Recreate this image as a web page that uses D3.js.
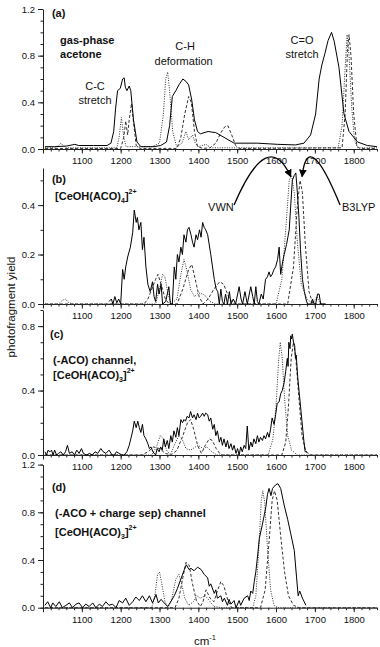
<!DOCTYPE html>
<html>
<head>
<meta charset="utf-8">
<script src="https://cdn.jsdelivr.net/npm/d3@7/dist/d3.min.js"></script>
<style>
  body { margin: 0; background: #fff; }
  svg { display: block; font-family: "Liberation Sans", Arial, sans-serif; }
  .tick text { font-size: 9.5px; fill: #111; }
  .tick line, .domain { stroke: #222; }
  .exp { fill: none; stroke: #000; stroke-width: 1; }
  .vwn { fill: none; stroke: #333; stroke-width: 1; stroke-dasharray: 1,1.4; }
  .b3 { fill: none; stroke: #333; stroke-width: 1; stroke-dasharray: 3,2; }
  .lbl { font-size: 11px; fill: #111; }
  .bold { font-weight: bold; }
</style>
</head>
<body>
<svg width="380" height="647"></svg>
<script>
// ---- data (wavenumber cm-1, photofragment yield) ----
// solid = experiment, dotted = VWN, dashed = B3LYP

var xTicks = [1100, 1200, 1300, 1400, 1500, 1600, 1700, 1800];
var aTicks = [0, 0.4, 0.8, 1.2];
var bTicks = [0, 0.2, 0.4];
var cTicks = [0, 0.4, 0.8];
var dTicks = [0, 0.4, 0.8, 1.2];

// (a) gas-phase acetone
var aExp = [[1005,0.02],[1030,0.02],[1060,0.025],[1075,0.035],[1082,0.04],[1092,0.03],[1130,0.03],[1165,0.03],
  [1175,0.05],[1182,0.15],[1187,0.35],[1192,0.5],[1199,0.52],[1205,0.6],[1209,0.61],[1212,0.53],[1216,0.5],
  [1222,0.54],[1226,0.5],[1233,0.25],[1242,0.06],[1252,0.02],[1286,0.02],[1303,0.03],[1318,0.06],[1326,0.2],
  [1333,0.45],[1342,0.5],[1350,0.55],[1360,0.6],[1368,0.58],[1375,0.55],[1383,0.42],[1390,0.25],[1398,0.15],
  [1405,0.13],[1425,0.15],[1445,0.14],[1466,0.1],[1492,0.05],[1552,0.05],[1604,0.04],[1650,0.035],[1672,0.05],
  [1689,0.12],[1702,0.3],[1711,0.6],[1718,0.72],[1726,0.82],[1734,0.93],[1743,1.0],[1750,0.92],[1762,0.7],
  [1775,0.3],[1788,0.15],[1810,0.06],[1835,0.03],[1860,0.02]];
var aVwn = [[1005,0.01],[1030,0.01],[1040,0.03],[1046,0.05],[1052,0.03],[1060,0.01],[1190,0.01],[1196,0.1],
  [1202,0.27],[1208,0.1],[1214,0.02],[1280,0.02],[1300,0.05],[1310,0.3],[1316,0.6],[1321,0.66],[1326,0.5],
  [1334,0.15],[1344,0.02],[1358,0.05],[1368,0.15],[1375,0.08],[1385,0.12],[1392,0.05],[1400,0.02],[1420,0.04],
  [1432,0.01],[1500,0.01],[1760,0.01],[1770,0.2],[1778,0.7],[1783,0.98],[1788,0.8],[1795,0.35],[1802,0.08],
  [1810,0.01],[1860,0.01]];
var aB3 = [[1005,0.005],[1200,0.005],[1208,0.1],[1213,0.24],[1218,0.12],[1222,0.25],[1228,0.39],[1234,0.2],
  [1240,0.03],[1250,0.005],[1345,0.005],[1355,0.1],[1365,0.3],[1375,0.45],[1382,0.4],[1390,0.15],[1398,0.02],
  [1412,0.005],[1430,0.01],[1445,0.05],[1458,0.14],[1468,0.19],[1476,0.2],[1486,0.12],[1496,0.03],[1505,0.005],
  [1770,0.01],[1778,0.3],[1784,0.85],[1788,0.98],[1793,0.8],[1800,0.3],[1808,0.03],[1815,0.005],[1860,0.005]];

// (b) [CeOH(ACO)4]2+
var bExp = [[1170,0.01],[1176,0.02],[1180,0.0],[1185,0.03],[1190,0.005],[1195,0.02],[1200,0.0],[1205,0.14],
  [1209,0.1],[1213,0.15],[1218,0.19],[1225,0.23],[1231,0.29],[1235,0.38],[1240,0.33],[1243,0.35],[1247,0.3],
  [1252,0.33],[1256,0.22],[1260,0.27],[1265,0.15],[1270,0.08],[1276,0.05],[1282,0.09],[1286,0.03],[1290,0.01],
  [1295,0.08],[1299,0.04],[1304,0.08],[1308,0.0],[1316,0.01],[1324,0.07],[1328,0.0],[1333,0.0],[1338,0.15],
  [1342,0.1],[1346,0.2],[1350,0.17],[1355,0.23],[1359,0.2],[1363,0.28],[1368,0.25],[1372,0.3],[1376,0.31],
  [1381,0.28],[1385,0.25],[1389,0.23],[1394,0.28],[1398,0.26],[1403,0.3],[1407,0.27],[1411,0.33],[1415,0.31],
  [1419,0.3],[1424,0.28],[1432,0.2],[1441,0.1],[1446,0.06],[1450,0.05],[1454,0.0],[1458,0.06],[1462,0.01],
  [1466,0.0],[1470,0.04],[1475,0.0],[1480,0.05],[1484,0.0],[1490,0.02],[1496,0.0],[1505,0.07],[1510,0.02],
  [1514,0.0],[1520,0.05],[1526,0.0],[1535,0.07],[1540,0.03],[1544,0.0],[1548,0.07],[1552,0.01],[1556,0.0],
  [1562,0.04],[1567,0.02],[1573,0.1],[1578,0.11],[1582,0.13],[1586,0.11],[1590,0.12],[1595,0.14],[1599,0.15],
  [1604,0.18],[1608,0.23],[1612,0.12],[1617,0.17],[1621,0.2],[1627,0.24],[1634,0.3],[1638,0.4],[1642,0.5],
  [1647,0.52],[1651,0.53],[1655,0.45],[1659,0.35],[1663,0.22],[1668,0.1],[1673,0.05],[1677,0.02],[1681,0.0],
  [1690,0.0],[1694,0.02],[1698,0.0],[1702,0.0],[1707,0.04],[1711,0.04],[1715,0.0],[1719,0.0],[1728,0.0]];
var bVwn = [[1005,0.0],[1040,0.0],[1050,0.015],[1058,0.02],[1066,0.005],[1080,0.0],[1290,0.0],[1300,0.06],
  [1308,0.12],[1314,0.11],[1322,0.04],[1330,0.0],[1345,0.02],[1355,0.12],[1363,0.18],[1370,0.14],[1380,0.06],
  [1390,0.03],[1400,0.045],[1412,0.04],[1420,0.03],[1430,0.01],[1445,0.0],[1600,0.0],[1615,0.1],[1625,0.3],
  [1634,0.5],[1640,0.52],[1647,0.45],[1655,0.25],[1665,0.08],[1680,0.02],[1695,0.0],[1705,0.03],[1715,0.0],
  [1725,0.0]];
var bB3 = [[1005,0.0],[1260,0.0],[1270,0.02],[1280,0.06],[1290,0.1],[1296,0.12],[1304,0.08],[1315,0.02],
  [1325,0.0],[1345,0.0],[1360,0.06],[1375,0.14],[1383,0.16],[1392,0.1],[1402,0.03],[1412,0.0],[1425,0.02],
  [1440,0.06],[1455,0.09],[1465,0.08],[1478,0.03],[1490,0.0],[1630,0.0],[1645,0.15],[1655,0.4],[1662,0.5],
  [1668,0.45],[1675,0.25],[1685,0.05],[1695,0.0],[1725,0.0]];

// (c) (-ACO) channel
var cExp = [[1005,0.02],[1009,0.0],[1013,0.03],[1018,0.02],[1022,0.03],[1026,0.0],[1030,0.03],[1035,0.0],
  [1040,0.01],[1046,0.02],[1052,0.0],[1058,0.02],[1063,0.06],[1068,0.01],[1075,0.02],[1081,0.0],[1087,0.03],
  [1093,0.01],[1099,0.04],[1104,0.01],[1112,0.0],[1120,0.01],[1127,0.0],[1134,0.02],[1141,0.01],[1149,0.04],
  [1155,0.02],[1162,0.01],[1170,0.03],[1178,0.0],[1184,0.0],[1189,0.02],[1196,0.01],[1203,0.0],[1209,0.0],
  [1216,0.02],[1222,0.06],[1226,0.1],[1231,0.15],[1235,0.21],[1240,0.17],[1244,0.21],[1248,0.17],[1252,0.14],
  [1256,0.19],[1260,0.12],[1265,0.1],[1270,0.07],[1274,0.04],[1278,0.05],[1283,0.02],[1290,0.0],[1294,0.04],
  [1299,0.02],[1303,0.05],[1307,0.03],[1311,0.1],[1315,0.05],[1320,0.09],[1324,0.04],[1329,0.12],[1333,0.08],
  [1337,0.15],[1342,0.11],[1346,0.17],[1350,0.12],[1355,0.22],[1359,0.2],[1363,0.22],[1367,0.21],[1371,0.24],
  [1376,0.23],[1380,0.27],[1385,0.23],[1389,0.25],[1394,0.22],[1398,0.26],[1402,0.23],[1406,0.24],[1411,0.26],
  [1415,0.24],[1419,0.26],[1424,0.25],[1428,0.21],[1432,0.23],[1437,0.16],[1441,0.19],[1445,0.12],[1449,0.15],
  [1454,0.08],[1458,0.11],[1462,0.06],[1466,0.1],[1471,0.05],[1475,0.09],[1479,0.04],[1484,0.07],[1488,0.03],
  [1492,0.06],[1497,0.01],[1501,0.04],[1505,0.0],[1509,0.05],[1513,0.02],[1518,0.06],[1522,0.04],[1526,0.18],
  [1530,0.03],[1535,0.08],[1539,0.05],[1543,0.1],[1548,0.07],[1552,0.12],[1556,0.08],[1560,0.11],[1565,0.09],
  [1569,0.12],[1573,0.1],[1578,0.14],[1582,0.11],[1586,0.16],[1590,0.23],[1595,0.19],[1599,0.25],[1603,0.32],
  [1608,0.33],[1612,0.38],[1616,0.4],[1621,0.45],[1625,0.52],[1629,0.6],[1631,0.55],[1633,0.7],[1636,0.66],
  [1638,0.74],[1640,0.72],[1642,0.75],[1645,0.7],[1648,0.68],[1650,0.6],[1652,0.62],[1656,0.48],[1660,0.38],
  [1664,0.28],[1668,0.18],[1672,0.08],[1675,0.02],[1680,0.02]];
var cVwn = [[1005,0.0],[1280,0.0],[1292,0.05],[1302,0.12],[1310,0.1],[1318,0.03],[1328,0.0],[1338,0.06],
  [1350,0.12],[1358,0.1],[1368,0.04],[1380,0.03],[1392,0.05],[1400,0.06],[1412,0.04],[1422,0.05],[1435,0.02],
  [1448,0.0],[1580,0.0],[1592,0.1],[1600,0.3],[1607,0.6],[1611,0.7],[1616,0.6],[1622,0.35],[1630,0.12],
  [1640,0.03],[1655,0.0],[1860,0.0]];
var cB3 = [[1005,0.0],[1255,0.0],[1270,0.02],[1285,0.05],[1300,0.04],[1315,0.01],[1330,0.0],[1345,0.03],
  [1360,0.12],[1372,0.2],[1380,0.22],[1388,0.16],[1398,0.06],[1408,0.01],[1418,0.06],[1428,0.1],[1436,0.09],
  [1446,0.04],[1458,0.0],[1615,0.0],[1625,0.08],[1632,0.3],[1639,0.6],[1645,0.7],[1651,0.6],[1659,0.35],
  [1667,0.12],[1677,0.02],[1690,0.0],[1860,0.0]];

// (d) (-ACO + charge sep) channel
var dExp = [[1005,0.02],[1012,0.05],[1020,0.0],[1025,0.04],[1033,0.01],[1042,0.05],[1050,0.0],[1059,0.02],
  [1068,0.04],[1076,0.0],[1085,0.03],[1093,0.04],[1102,0.0],[1110,0.03],[1119,0.01],[1128,0.04],[1136,0.0],
  [1145,0.03],[1153,0.01],[1162,0.05],[1170,0.02],[1179,0.03],[1188,0.0],[1196,0.06],[1205,0.04],[1213,0.08],
  [1222,0.02],[1231,0.05],[1239,0.09],[1248,0.06],[1256,0.1],[1265,0.05],[1274,0.1],[1282,0.04],[1291,0.11],
  [1297,0.04],[1304,0.07],[1312,0.04],[1321,0.01],[1329,0.05],[1338,0.1],[1346,0.16],[1355,0.24],[1364,0.32],
  [1369,0.36],[1376,0.32],[1381,0.33],[1389,0.31],[1398,0.34],[1407,0.32],[1415,0.28],[1424,0.25],[1428,0.18],
  [1432,0.2],[1441,0.12],[1445,0.15],[1449,0.08],[1458,0.1],[1462,0.05],[1467,0.08],[1475,0.02],[1479,0.07],
  [1484,0.03],[1492,0.06],[1497,0.0],[1505,0.06],[1509,0.02],[1518,0.08],[1527,0.1],[1531,0.06],[1535,0.14],
  [1540,0.12],[1544,0.22],[1548,0.3],[1553,0.45],[1557,0.58],[1565,0.7],[1570,0.78],[1574,0.85],[1578,0.95],
  [1582,1.0],[1587,0.94],[1591,1.0],[1599,1.03],[1605,1.04],[1612,1.0],[1621,0.86],[1630,0.74],[1638,0.62],
  [1647,0.48],[1653,0.25],[1657,0.1],[1661,0.14],[1668,0.08],[1677,0.02]];
var dVwn = [[1005,0.0],[1280,0.0],[1288,0.1],[1295,0.28],[1300,0.3],[1306,0.2],[1314,0.05],[1322,0.0],
  [1332,0.08],[1342,0.24],[1350,0.28],[1357,0.2],[1365,0.08],[1375,0.02],[1387,0.05],[1396,0.1],[1405,0.08],
  [1418,0.1],[1428,0.06],[1440,0.01],[1460,0.0],[1540,0.0],[1548,0.1],[1555,0.45],[1562,0.9],[1566,0.98],
  [1571,0.88],[1578,0.5],[1586,0.15],[1595,0.02],[1605,0.0],[1860,0.0]];
var dB3 = [[1005,0.0],[1340,0.0],[1350,0.08],[1360,0.25],[1368,0.38],[1376,0.36],[1385,0.2],[1395,0.06],
  [1405,0.01],[1412,0.05],[1420,0.15],[1430,0.08],[1440,0.05],[1450,0.15],[1458,0.22],[1466,0.18],[1476,0.06],
  [1486,0.0],[1560,0.0],[1572,0.15],[1582,0.55],[1590,0.9],[1596,0.98],[1603,0.9],[1612,0.6],[1622,0.3],
  [1632,0.1],[1645,0.02],[1660,0.0],[1860,0.0]];

// ---- layout ----
var svg = d3.select("svg");

// shared wavenumber axis for all four panels
var x = d3.scaleLinear().domain([1000, 1860]).range([43, 377]);
var xMinor = d3.range(1000, 1861, 20);

// each panel has its own yield scale (pixel bottom/top of its y axis)
var panels = [
  { exp: aExp, vwn: aVwn, b3: aB3, ticks: aTicks, yMax: 1.2,  bottom: 149,   top: 9 },
  { exp: bExp, vwn: bVwn, b3: bB3, ticks: bTicks, yMax: 0.55, bottom: 304,   top: 168 },
  { exp: cExp, vwn: cVwn, b3: cB3, ticks: cTicks, yMax: 0.9,  bottom: 455,   top: 310 },
  { exp: dExp, vwn: dVwn, b3: dB3, ticks: dTicks, yMax: 1.2,  bottom: 607.7, top: 464.6 }
];

svg.append("defs").append("marker")
    .attr("id", "arr")
    .attr("viewBox", "0 0 10 10")
    .attr("refX", 9).attr("refY", 5)
    .attr("markerWidth", 6).attr("markerHeight", 6)
    .attr("orient", "auto")
  .append("path")
    .attr("d", "M0,0 L10,5 L0,10 z")
    .attr("fill", "#000");

panels.forEach(function(p) {
  p.y = d3.scaleLinear().domain([0, p.yMax]).range([p.bottom, p.top]);
  var g = svg.append("g");

  // minor ticks first, then major ticks + labels
  g.append("g")
      .attr("transform", "translate(0," + p.bottom + ")")
      .call(d3.axisBottom(x).tickValues(xMinor).tickSize(2.5).tickFormat("").tickSizeOuter(0))
    .select(".domain").remove();
  g.append("g")
      .attr("transform", "translate(0," + p.bottom + ")")
      .call(d3.axisBottom(x).tickValues([1000].concat(xTicks)).tickSize(4.5).tickPadding(4).tickSizeOuter(0)
        .tickFormat(function(d) { return d >= 1100 ? d : ""; }));

  g.append("g")
      .attr("transform", "translate(" + x(1000) + ",0)")
      .call(d3.axisLeft(p.y).tickValues(d3.range(0, p.yMax + 0.001, 0.1)).tickSize(2.5).tickFormat("").tickSizeOuter(0))
    .select(".domain").remove();
  g.append("g")
      .attr("transform", "translate(" + x(1000) + ",0)")
      .call(d3.axisLeft(p.y).tickValues(p.ticks).tickSize(5).tickPadding(3).tickSizeOuter(0)
        .tickFormat(d3.format(".1f")));

  var line = d3.line()
      .x(function(d) { return x(d[0]); })
      .y(function(d) { return p.y(d[1]); });

  g.append("path").datum(p.vwn).attr("class", "vwn").attr("d", line);
  g.append("path").datum(p.b3).attr("class", "b3").attr("d", line);
  g.append("path").datum(p.exp).attr("class", "exp").attr("d", line);
  p.g = g;
});

// ---- annotations ----
function label(p, t, xv, yv, opts) {
  opts = opts || {};
  return p.g.append("text")
      .attr("class", "lbl" + (opts.bold ? " bold" : ""))
      .attr("x", x(xv))
      .attr("y", p.y(yv))
      .attr("text-anchor", opts.anchor || "start")
      .text(t);
}

// ion formula with subscript n and superscript 2+
function ion(p, n, xv, yv) {
  var t = p.g.append("text")
      .attr("class", "lbl bold")
      .attr("x", x(xv))
      .attr("y", p.y(yv));
  t.append("tspan").text("[CeOH(ACO)");
  t.append("tspan").attr("dy", 3).attr("font-size", "7px").text(n);
  t.append("tspan").attr("dy", -3).text("]");
  t.append("tspan").attr("dy", -6).attr("font-size", "7px").text("2+");
}

var pa = panels[0], pb = panels[1], pc = panels[2], pd = panels[3];

label(pa, "(a)", 1023, 1.13, { bold: true });
label(pa, "gas-phase", 1044, 0.9, { bold: true });
label(pa, "acetone", 1044, 0.78, { bold: true });
label(pa, "C-C", 1134, 0.51, { anchor: "middle" });
label(pa, "stretch", 1134, 0.39, { anchor: "middle" });
label(pa, "C-H", 1366, 0.85, { anchor: "middle" });
label(pa, "deformation", 1362, 0.72, { anchor: "middle" });
label(pa, "C=O", 1667, 0.9, { anchor: "middle" });
label(pa, "stretch", 1667, 0.78, { anchor: "middle" });

label(pb, "(b)", 1023, 0.49, { bold: true });
ion(pb, "4", 1031, 0.42);
label(pb, "VWN", 1425, 0.375);
label(pb, "B3LYP", 1770, 0.375);

// curved arrows from the method names to the computed C=O peaks
var arrows = [
  [[1492, 0.4], [1579, 0.72], [1638, 0.515]],
  [[1765, 0.4], [1682, 0.72], [1667, 0.515]]
];
arrows.forEach(function(a) {
  var path = d3.path();
  path.moveTo(x(a[0][0]), pb.y(a[0][1]));
  path.quadraticCurveTo(x(a[1][0]), pb.y(a[1][1]), x(a[2][0]), pb.y(a[2][1]));
  pb.g.append("path")
      .attr("d", path.toString())
      .attr("fill", "none")
      .attr("stroke", "#000")
      .attr("stroke-width", 1.3)
      .attr("marker-end", "url(#arr)");
});

label(pc, "(c)", 1018, 0.725, { bold: true });
label(pc, "(-ACO) channel,", 1026, 0.565, { bold: true });
ion(pc, "3", 1026, 0.47);

label(pd, "(d)", 1023, 0.98, { bold: true });
label(pd, "(-ACO + charge sep) channel", 1031, 0.76, { bold: true });
ion(pd, "3", 1031, 0.6);

// axis titles
var xt = svg.append("text")
    .attr("class", "lbl")
    .attr("x", 205).attr("y", 645)
    .attr("text-anchor", "middle")
    .style("font-size", "11.5px");
xt.append("tspan").text("cm");
xt.append("tspan").attr("dy", -5).attr("font-size", "7.5px").text("-1");

svg.append("text")
    .attr("class", "lbl")
    .attr("transform", "translate(15,307) rotate(-90)")
    .attr("text-anchor", "middle")
    .style("font-size", "11.5px")
    .text("photofragment yield");
</script>
</body>
</html>
